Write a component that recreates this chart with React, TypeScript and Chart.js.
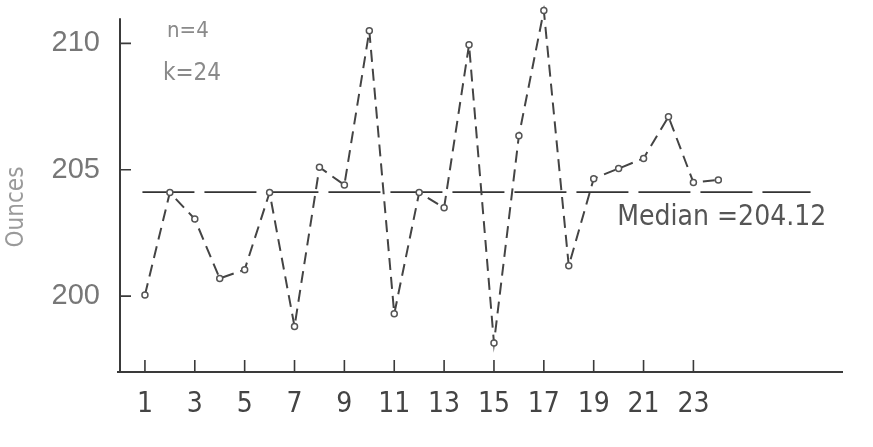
import React, { useEffect, useRef } from "react";
import { Chart, registerables } from "chart.js";

Chart.register(...registerables);

const samples = [
  1, 2, 3, 4, 5, 6, 7, 8, 9, 10, 11, 12, 13, 14, 15, 16, 17, 18, 19, 20, 21, 22, 23, 24,
];
const ounces = [
  200.05, 204.1, 203.05, 200.7, 201.05, 204.1, 198.8, 205.1, 204.4, 210.5, 199.3, 204.1,
  203.5, 209.95, 198.15, 206.35, 211.3, 201.2, 204.65, 205.05, 205.45, 207.1, 204.5, 204.6,
];
const median = 204.12;
const medianSpan = [0.9, 27.7];
const xTickValues = [1, 3, 5, 7, 9, 11, 13, 15, 17, 19, 21, 23];
const yTickValues = [200, 205, 210];
const xRange = [0, 29];
const yRange = [197, 211.5];
const yAxisTop = 211;
const yTitle = "Ounces";
const medianLabel = "Median =204.12";
const noteLines = ["n=4", "k=24"];

const INK = "#3a3a3a";
const NARROW = "'Liberation Sans Narrow', 'DejaVu Sans Condensed', sans-serif";

const decorPlugin = {
  id: "decor",
  afterDraw(chart: any) {
    const ctx = chart.ctx;
    const xs = chart.scales.x;
    const ys = chart.scales.y;
    const area = chart.chartArea;
    ctx.save();
    // axes
    ctx.strokeStyle = INK;
    ctx.lineWidth = 2;
    ctx.beginPath();
    ctx.moveTo(area.left, ys.getPixelForValue(yAxisTop));
    ctx.lineTo(area.left, area.bottom);
    ctx.moveTo(area.left - 3, area.bottom);
    ctx.lineTo(area.right, area.bottom);
    ctx.stroke();
    // inside ticks
    ctx.lineWidth = 1.6;
    ctx.beginPath();
    xTickValues.forEach((v) => {
      const px = xs.getPixelForValue(v);
      ctx.moveTo(px, area.bottom);
      ctx.lineTo(px, area.bottom - 12);
    });
    yTickValues.forEach((v) => {
      const py = ys.getPixelForValue(v);
      ctx.moveTo(area.left, py);
      ctx.lineTo(area.left + 11, py);
    });
    ctx.stroke();
    // y title
    ctx.fillStyle = "#9a9a9a";
    ctx.font = "24px " + NARROW;
    ctx.textAlign = "center";
    ctx.textBaseline = "middle";
    ctx.translate(17, 207);
    ctx.rotate(-Math.PI / 2);
    ctx.fillText(yTitle, 0, 0);
    ctx.restore();

    ctx.save();
    // median label
    ctx.fillStyle = "#555";
    ctx.font = "28px " + NARROW;
    ctx.textAlign = "left";
    ctx.textBaseline = "middle";
    ctx.fillText(medianLabel, xs.getPixelForValue(19.95), ys.getPixelForValue(median) + 26);
    // notes
    ctx.fillStyle = "#8a8a8a";
    ctx.font = "22px " + NARROW;
    ctx.fillText(noteLines[0], area.left + 47, 31);
    ctx.font = "24px " + NARROW;
    ctx.fillText(noteLines[1], area.left + 43, 74);
    ctx.restore();
  },
};

export default function App() {
  const ref = useRef<HTMLCanvasElement | null>(null);
  useEffect(() => {
    if (!ref.current) return;
    const chart = new Chart(ref.current, {
      type: "line",
      data: {
        datasets: [
          {
            data: samples.map((s, i) => ({ x: s, y: ounces[i] })),
            borderColor: "#444",
            borderWidth: 2,
            borderDash: [12, 7],
            pointRadius: 3,
            pointBorderWidth: 1.5,
            pointBorderColor: "#555",
            pointBackgroundColor: "#fff",
            tension: 0,
          },
          {
            data: medianSpan.map((x) => ({ x, y: median })),
            borderColor: "#333",
            borderWidth: 1.8,
            borderDash: [52, 10],
            pointRadius: 0,
          },
        ],
      },
      options: {
        animation: false,
        responsive: true,
        maintainAspectRatio: false,
        layout: { padding: { top: 5, right: 30, left: 0, bottom: 0 } },
        plugins: { legend: { display: false }, tooltip: { enabled: false } },
        scales: {
          x: {
            type: "linear",
            min: xRange[0],
            max: xRange[1],
            grid: { display: false, drawTicks: false },
            border: { display: false },
            afterBuildTicks: (s: any) => {
              s.ticks = xTickValues.map((v) => ({ value: v }));
            },
            afterFit: (s: any) => {
              s.height = 75;
              s.paddingLeft = 0;
              s.paddingRight = 0;
            },
            ticks: {
              color: "#444",
              padding: 16,
              autoSkip: false,
              maxRotation: 0,
              font: { family: NARROW, size: 28 },
            },
          },
          y: {
            min: yRange[0],
            max: yRange[1],
            grid: { display: false, drawTicks: false },
            border: { display: false },
            afterBuildTicks: (s: any) => {
              s.ticks = yTickValues.map((v) => ({ value: v }));
            },
            afterFit: (s: any) => {
              s.width = 120;
              s.paddingTop = 0;
              s.paddingBottom = 0;
            },
            ticks: {
              color: "#777",
              padding: 20,
              font: { family: "'Liberation Sans', sans-serif", size: 29 },
            },
          },
        },
      },
      plugins: [decorPlugin],
    });
    return () => chart.destroy();
  }, []);
  return (
    <div style={{ position: "fixed", left: 0, top: 0, width: 873, height: 447, background: "#fff" }}>
      <canvas ref={ref} />
    </div>
  );
}
